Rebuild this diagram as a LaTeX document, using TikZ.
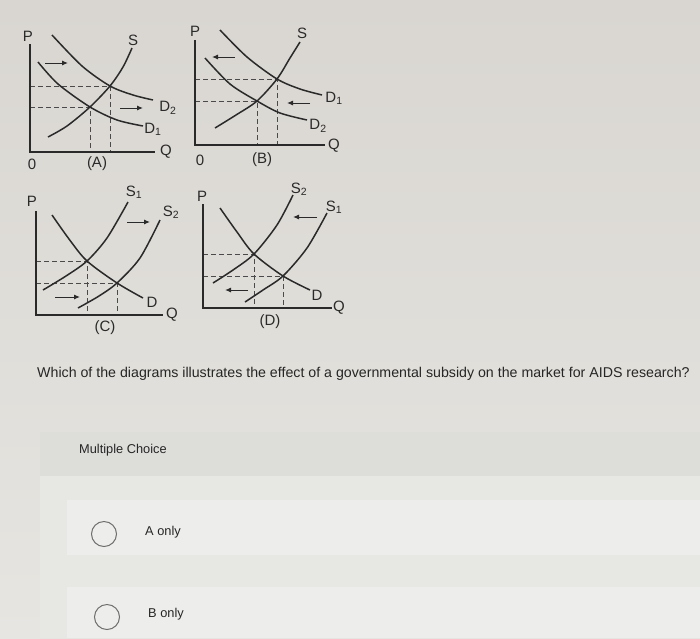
\documentclass[tikz,border=0pt]{standalone}
\usepackage{fontspec}
\setmainfont{Liberation Sans}
\usetikzlibrary{arrows.meta}
\definecolor{ink}{HTML}{2A2A2A}
\definecolor{paper}{HTML}{E6E5E1}
\definecolor{papertop}{HTML}{D9D6D1}
\definecolor{band}{HTML}{DDDDDA}
\definecolor{panel}{HTML}{E7E7E4}
\definecolor{optbox}{HTML}{EDEDEB}
\definecolor{ring}{HTML}{6E6E6E}
\tikzset{
curve/.style={draw=ink, line width=1.5pt},
axisline/.style={draw=ink, line width=1.3pt},
guide/.style={draw=ink!85, line width=1pt, dash pattern=on 5pt off 3pt},
move/.style={draw=ink, line width=1pt, -{Latex[length=6pt,width=5pt]}},
lbl/.style={inner sep=0pt, font=\fontsize{15}{17}\selectfont, text=ink},
txt/.style={inner sep=0pt, anchor=west, text=black!85},
}

\begin{document}
\begin{tikzpicture}[x=1pt,y=-1pt]
\shade[top color=papertop, bottom color=paper] (0,0) rectangle (700,638);
\useasboundingbox (0,0) rectangle (700,638);

\fill[panel] (40,432) rectangle (700,638);
\fill[band] (40,432) rectangle (700,476);
\fill[optbox] (67,500) rectangle (700,555);
\fill[optbox] (67,587) rectangle (700,638);

% (A)
\coordinate (oA) at (30,152);
\coordinate (eA1) at (90,107);
\coordinate (eA2) at (110,86);
\draw[guide] (eA1 -| oA) -- (eA1) -- (eA1 |- oA);
\draw[guide] (eA2 -| oA) -- (eA2) -- (eA2 |- oA);
\draw[axisline] (30,44) -- (oA) -- (155,152);
\draw[curve] plot[smooth] coordinates {(48,137) (67,126) (eA1) (eA2) (123,67) (132,48)};
\draw[curve] plot[smooth] coordinates {(38,62) (58,84) (eA1) (117,120) (143,126)};
\draw[curve] plot[smooth] coordinates {(52,35) (82,66) (eA2) (133,95) (153,100)};
\draw[move] (45,63) -- ++(23,0);
\draw[move] (120,108) -- ++(23,0);
\node[lbl] (pA) at (28,36) {P};
\node[lbl] (sA) at (133,40) {S};
\node[lbl] (dA2) at (168,108) {D\textsubscript{2}};
\node[lbl] (dA1) at (153,129) {D\textsubscript{1}};
\node[lbl] (qA) at (166,152) {Q};
\node[lbl] (zA) at (32,164) {0};
\node[lbl] (tA) at (97,164) {(A)};

% (B)
\coordinate (oB) at (195,145);
\coordinate (eB1) at (277,79);
\coordinate (eB2) at (257,101);
\draw[guide] (eB1 -| oB) -- (eB1) -- (eB1 |- oB);
\draw[guide] (eB2 -| oB) -- (eB2) -- (eB2 |- oB);
\draw[axisline] (195,40) -- (oB) -- (325,145);
\draw[curve] plot[smooth] coordinates {(215,128) (236,115) (eB2) (eB1) (290,58) (300,42)};
\draw[curve] plot[smooth] coordinates {(220,30) (247,57) (eB1) (300,89) (322,95)};
\draw[curve] plot[smooth] coordinates {(205,58) (230,84) (eB2) (280,113) (307,120)};
\draw[move] (235,57) -- ++(-23,0);
\draw[move] (310,103) -- ++(-23,0);
\node[lbl] (pB) at (195,31) {P};
\node[lbl] (sB) at (302,33) {S};
\node[lbl] (dB1) at (334,98) {D\textsubscript{1}};
\node[lbl] (dB2) at (318,126) {D\textsubscript{2}};
\node[lbl] (qB) at (334,146) {Q};
\node[lbl] (zB) at (200,160) {0};
\node[lbl] (tB) at (262,160) {(B)};

% (C)
\coordinate (oC) at (36,315);
\coordinate (eC1) at (87,261);
\coordinate (eC2) at (117,283);
\draw[guide] (eC1 -| oC) -- (eC1) -- (eC1 |- oC);
\draw[guide] (eC2 -| oC) -- (eC2) -- (eC2 |- oC);
\draw[axisline] (36,211) -- (oC) -- (163,315);
\draw[curve] plot[smooth] coordinates {(43,290) (66,276) (eC1) (107,238) (128,202)};
\draw[curve] plot[smooth] coordinates {(78,308) (99,296) (eC2) (140,258) (160,220)};
\draw[curve] plot[smooth] coordinates {(52,215) (69,239) (eC1) (eC2) (143,298)};
\draw[move] (127,222) -- ++(23,0);
\draw[move] (55,297) -- ++(25,0);
\node[lbl] (pC) at (32,201) {P};
\node[lbl] (sC1) at (134,192) {S\textsubscript{1}};
\node[lbl] (sC2) at (171,212) {S\textsubscript{2}};
\node[lbl] (dC) at (152,302) {D};
\node[lbl] (qC) at (172,315) {Q};
\node[lbl] (tC) at (105,328) {(C)};

% (D)
\coordinate (oD) at (203,308);
\coordinate (eD1) at (254,254);
\coordinate (eD2) at (283,276);
\draw[guide] (eD1 -| oD) -- (eD1) -- (eD1 |- oD);
\draw[guide] (eD2 -| oD) -- (eD2) -- (eD2 |- oD);
\draw[axisline] (203,204) -- (oD) -- (332,308);
\draw[curve] plot[smooth] coordinates {(213,283) (233,270) (eD1) (277,225) (293,195)};
\draw[curve] plot[smooth] coordinates {(245,302) (263,290) (eD2) (307,248) (327,213)};
\draw[curve] plot[smooth] coordinates {(220,208) (237,232) (eD1) (eD2) (310,290)};
\draw[move] (317,217) -- ++(-24,0);
\draw[move] (248,290) -- ++(-23,0);
\node[lbl] (pD) at (202,196) {P};
\node[lbl] (sD2) at (299,189) {S\textsubscript{2}};
\node[lbl] (sD1) at (334,207) {S\textsubscript{1}};
\node[lbl] (dD) at (317,295) {D};
\node[lbl] (qD) at (339,308) {Q};
\node[lbl] (tD) at (270,322) {(D)};

\node[txt, font=\fontsize{14.2}{17}\selectfont] (quest) at (37,374)
  {Which of the diagrams illustrates the effect of a governmental subsidy on the market for AIDS research?};
\node[txt, font=\fontsize{12.8}{15}\selectfont] (mc) at (79,450) {Multiple Choice};

\node[draw=ring, line width=1pt, circle, minimum size=25pt, inner sep=0pt] (optA) at (104,534) {};
\node[txt, font=\fontsize{12.8}{15}\selectfont] (ansA) at (145,532) {A only};
\node[draw=ring, line width=1pt, circle, minimum size=25pt, inner sep=0pt] (optB) at (107,617) {};
\node[txt, font=\fontsize{12.8}{15}\selectfont] (ansB) at (148,614) {B only};
\end{tikzpicture}
\end{document}
